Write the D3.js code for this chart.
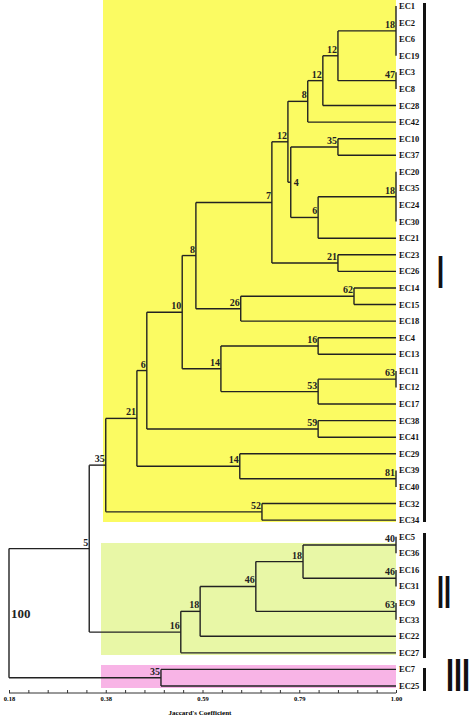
<!DOCTYPE html>
<html>
<head>
<meta charset="utf-8">
<script src="https://cdn.jsdelivr.net/npm/d3@7"></script>
<style>
body { margin: 0; background: #fff; }
text { font-family: "Liberation Serif", "DejaVu Serif", serif; font-weight: bold; }
</style>
</head>
<body>
<div id="chart"></div>
<script>
// leaf order, top to bottom
var leaves = ["EC1","EC2","EC6","EC19","EC3","EC8","EC28","EC42","EC10","EC37",
    "EC20","EC35","EC24","EC30","EC21","EC23","EC26","EC14","EC15","EC18",
    "EC4","EC13","EC11","EC12","EC17","EC38","EC41","EC29","EC39","EC40",
    "EC32","EC34","EC5","EC36","EC16","EC31","EC9","EC33","EC22","EC27","EC7","EC25"];

// merges: [id, children, Jaccard coefficient, bootstrap label]
var merges = [
    ["n1", ["EC1","EC2","EC6","EC19"], 1.00, 18],
    ["n2", ["EC3","EC8"], 1.00, 47],
    ["n3", ["n1","n2"], 0.877, 12],
    ["n4", ["n3","EC28"], 0.845, 12],
    ["n5", ["n4","EC42"], 0.813, 8],
    ["n6", ["EC10","EC37"], 0.877, 35],
    ["n7", ["EC20","EC35","EC24","EC30"], 1.00, 18],
    ["n8", ["n7","EC21"], 0.835, 6],
    ["n9", ["n6","n8"], 0.777, 4],
    ["n10", ["n5","n9"], 0.771, 12],
    ["n11", ["EC23","EC26"], 0.877, 21],
    ["n12", ["n10","n11"], 0.737, 7],
    ["n13", ["EC14","EC15"], 0.911, 62],
    ["n14", ["n13","EC18"], 0.671, 26],
    ["n15", ["n12","n14"], 0.576, 8],
    ["n16", ["EC4","EC13"], 0.835, 16],
    ["n17", ["EC11","EC12"], 1.00, 63],
    ["n18", ["n17","EC17"], 0.835, 53],
    ["n19", ["n16","n18"], 0.629, 14],
    ["n20", ["n15","n19"], 0.547, 10],
    ["n21", ["EC38","EC41"], 0.835, 59],
    ["n22", ["n20","n21"], 0.472, 6],
    ["n23", ["EC39","EC40"], 1.00, 81],
    ["n24", ["EC29","n23"], 0.669, 14],
    ["n25", ["n22","n24"], 0.451, 21],
    ["n26", ["EC32","EC34"], 0.716, 52],
    ["n27", ["n25","n26"], 0.385, 35],
    ["n28", ["EC5","EC36"], 1.00, 40],
    ["n29", ["EC16","EC31"], 1.00, 46],
    ["n30", ["n28","n29"], 0.803, 18],
    ["n31", ["EC9","EC33"], 1.00, 63],
    ["n32", ["n30","n31"], 0.703, 46],
    ["n33", ["n32","EC22"], 0.585, 18],
    ["n34", ["n33","EC27"], 0.544, 16],
    ["n35", ["n27","n34"], 0.35, 5],
    ["n36", ["EC7","EC25"], 0.502, 35],
    ["n37", ["n35","n36"], 0.18, 100]
];

// cluster groups: [name, first leaf, last leaf, colour]
var groups = [
    ["I", "EC1", "EC34", "#fbfb62"],
    ["II", "EC5", "EC27", "#e8f7a6"],
    ["III", "EC7", "EC25", "#f8b4e6"]
];

var tickLabels = ["0.18", "0.38", "0.59", "0.79", "1.00"];

var width = 474, height = 718;
var svg = d3.select("#chart").append("svg")
    .attr("width", width).attr("height", height);

var x = d3.scaleLinear().domain([0.18, 1.00]).range([9, 396]);
var y = d3.scalePoint().domain(leaves).range([6, 686]);

// build tree
var byId = {};
leaves.forEach(function(l) { byId[l] = { name: l, value: 1.00 }; });
merges.forEach(function(m) {
    byId[m[0]] = { name: m[0], value: m[2], label: m[3],
        children: m[1].map(function(c) { return byId[c]; }) };
});
var root = d3.hierarchy(byId["n37"]);
root.eachAfter(function(d) {
    d.px = x(d.data.value);
    if (d.children) {
        d.py = (d.children[0].py + d.children[d.children.length - 1].py) / 2;
    } else {
        d.py = y(d.data.name);
    }
});

// background boxes
var gy = { "I": [0, 522], "II": [543, 655], "III": [665, 688] };
svg.selectAll("rect.bg").data(groups).enter().append("rect")
    .attr("x", function(d) { return d[0] === "I" ? 103 : 101; })
    .attr("y", function(d) { return gy[d[0]][0]; })
    .attr("width", function(d) { return 396 - (d[0] === "I" ? 103 : 101); })
    .attr("height", function(d) { return gy[d[0]][1] - gy[d[0]][0]; })
    .attr("fill", function(d) { return d[3]; });

// branches
var internal = root.descendants().filter(function(d) { return d.children; });
var g = svg.append("g").attr("stroke", "#222").attr("stroke-width", 1.4).attr("fill", "none");
internal.forEach(function(d) {
    var c = d.children;
    g.append("line").attr("x1", d.px).attr("x2", d.px)
        .attr("y1", c[0].py).attr("y2", c[c.length - 1].py);
    c.forEach(function(k) {
        if (k.px > d.px) {
            g.append("line").attr("x1", d.px).attr("x2", k.px)
                .attr("y1", k.py).attr("y2", k.py);
        }
    });
});

// node labels
svg.selectAll("text.node").data(internal).enter().append("text")
    .attr("x", function(d) {
        if (d.data.label === 100) return d.px + 2;
        if (d.data.name === "n9") return d.px + 3;
        return d.px - 1;
    })
    .attr("y", function(d) {
        if (d.data.label === 100) return d.py + 5;
        if (d.data.name === "n9") return d.py + 4;
        return d.py - 3;
    })
    .attr("text-anchor", function(d) {
        return (d.data.label === 100 || d.data.name === "n9") ? "start" : "end";
    })
    .attr("font-size", function(d) { return d.data.label === 100 ? 13 : 10; })
    .attr("fill", "#222")
    .text(function(d) { return d.data.label; });

// leaf labels
svg.selectAll("text.leaf").data(leaves).enter().append("text")
    .attr("x", 399).attr("y", function(d) { return y(d) + 3; })
    .attr("font-size", 8.5).attr("fill", "#111")
    .text(function(d) { return d; });

// group bars
var barY = { "I": [3, 522], "II": [533, 658], "III": [668, 691] };
svg.selectAll("rect.bar").data(groups).enter().append("rect")
    .attr("x", 423).attr("width", 3)
    .attr("y", function(d) { return barY[d[0]][0]; })
    .attr("height", function(d) { return barY[d[0]][1] - barY[d[0]][0]; })
    .attr("fill", "#111");

// roman numerals: [x, baseline, width]
var numPos = { "I": [437, 288, 7], "II": [437, 608, 14], "III": [446, 691, 24] };
svg.selectAll("text.num").data(groups).enter().append("text")
    .attr("x", function(d) { return numPos[d[0]][0]; })
    .attr("y", function(d) { return numPos[d[0]][1]; })
    .style("font-family", "'Liberation Sans', 'DejaVu Sans', sans-serif")
    .style("font-weight", "bold")
    .attr("font-size", 47)
    .attr("textLength", function(d) { return numPos[d[0]][2]; })
    .attr("lengthAdjust", "spacingAndGlyphs")
    .attr("fill", "#111")
    .text(function(d) { return d[0]; });

// axis
var ticks = d3.range(21).map(function(i) { return 0.18 + i * 0.041; });
var axis = d3.axisBottom(x).tickValues(ticks).tickSize(3)
    .tickFormat(function(d, i) { return i % 5 === 0 ? tickLabels[i / 5] : ""; });
var ax = svg.append("g").attr("transform", "translate(0,693)").call(axis);
ax.select(".domain").attr("stroke", "#333").attr("d", "M9,0H396");
ax.selectAll(".tick line").attr("stroke", "#333").attr("y2", -3);
ax.selectAll(".tick text").attr("y", 3).attr("font-size", 6.5)
    .attr("font-family", "Liberation Serif, serif").attr("font-weight", "bold");

svg.append("text").attr("x", 200).attr("y", 715).attr("text-anchor", "middle")
    .attr("font-size", 7).text("Jaccard's Coefficient");
</script>
</body>
</html>
